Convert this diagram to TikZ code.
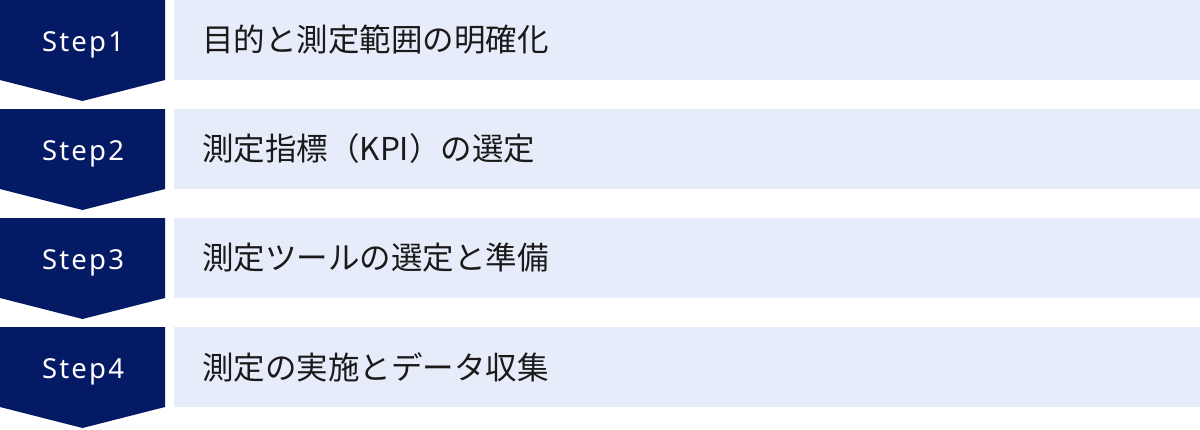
\documentclass[tikz,border=0pt]{standalone}
\usepackage{fontspec}
\setmainfont{Noto Sans CJK JP}
\newfontfamily\steplatin[LetterSpace=8]{Noto Sans}

\definecolor{stepnavy}{HTML}{051A64}
\definecolor{steplight}{HTML}{E6ECF9}
\definecolor{steptext}{HTML}{1A1A1A}

\tikzset{
  steplabel/.style={text=white,font=\steplatin\fontsize{27.5}{32}\selectfont,inner sep=0pt},
  steptitle/.style={text=steptext,font=\fontsize{31.5}{36}\selectfont,inner sep=0pt,anchor=west}
}

\begin{document}
\begin{tikzpicture}[x=1pt,y=-1pt]
  \useasboundingbox (0,0) rectangle (1200,429);
  \foreach \i/\txt in {1/目的と測定範囲の明確化,
                       2/測定指標（KPI）の選定,
                       3/測定ツールの選定と準備,
                       4/測定の実施とデータ収集} {
    \pgfmathsetmacro\rowy{(\i-1)*109}
    % chevron and bar
    \fill[stepnavy] (0,\rowy) -- (165,\rowy) -- (165,\rowy+80)
      -- (82.5,\rowy+101) -- (0,\rowy+80) -- cycle;
    \fill[steplight] (174,\rowy) rectangle (1200,\rowy+80);
    \node[steplabel] (step\i) at (83,\rowy+44.5) {Step\i};
    \node[steptitle] (title\i) at (202,\rowy+40) {\txt};
  }
\end{tikzpicture}
\end{document}
